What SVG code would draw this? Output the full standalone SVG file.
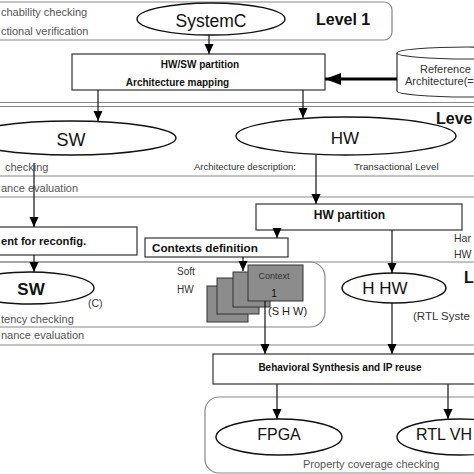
<svg xmlns="http://www.w3.org/2000/svg" width="474" height="474" viewBox="0 0 474 474">
<defs>
<marker id="ah" markerUnits="userSpaceOnUse" markerWidth="10" markerHeight="10" refX="10" refY="5" orient="auto"><path d="M0,0.5 L10,5 L0,9.5 z" fill="#000"/></marker>
<marker id="ahb" markerUnits="userSpaceOnUse" markerWidth="16" markerHeight="12" refX="16" refY="6" orient="auto"><path d="M0,0 L16,6 L0,12 z" fill="#000"/></marker>
<style>
.sep{stroke:#888;stroke-width:1.2;fill:none}
.box{fill:#fff;stroke:#333;stroke-width:1.2}
.ell{fill:#fff;stroke:#111;stroke-width:1.4}
.ctx{fill:#8c8c8c;stroke:#333;stroke-width:1}
.con{stroke:#111;stroke-width:1.2;fill:none;marker-end:url(#ah)}
text{font-family:"Liberation Sans",Arial,sans-serif}
.b{font-weight:bold;fill:#111}
.ann{fill:#555;font-size:11px}
.big{fill:#111}
</style>
</defs>
<rect width="474" height="474" fill="#fff"/>
<g id="separators">
<path class="sep" d="M-10,2 H384 A8,8 0 0 1 392,10 V32 A8,8 0 0 1 384,40 H-10"/>
<line class="sep" x1="0" y1="102.5" x2="474" y2="102.5"/>
<line class="sep" x1="0" y1="106.5" x2="474" y2="106.5"/>
<line class="sep" x1="0" y1="176" x2="474" y2="176"/>
<line class="sep" x1="0" y1="197" x2="474" y2="197"/>
<line class="sep" x1="0" y1="262" x2="474" y2="262"/>
<path class="sep" d="M-10,262 H310 A15,15 0 0 1 325,277 V312 A15,15 0 0 1 310,327 H-10"/>
<line class="sep" x1="0" y1="345" x2="474" y2="345"/>
<path class="sep" d="M490,397 H219 A14,14 0 0 0 205,411 V459 A14,14 0 0 0 219,473 H490"/>
</g>
<g id="annotations">
<text class="ann" x="1" y="16" font-size="9.8">chability checking</text>
<text class="ann" x="1" y="35" font-size="11.4">ctional verification</text>
<text class="b" x="316" y="25" font-size="16">Level 1</text>
<text class="b" x="436" y="124" font-size="16">Leve</text>
<text class="ann" x="5" y="171" font-size="11.8">checking</text>
<text class="ann" x="1" y="192" font-size="10.8">ance evaluation</text>
<text x="194" y="170" font-size="9.5" fill="#333">Architecture description:</text>
<text x="354" y="170" font-size="9.8" fill="#333">Transactional Level</text>
<text x="454" y="242" font-size="10.5" fill="#333">Har</text>
<text x="454" y="258" font-size="10.5" fill="#333">HW</text>
<text x="177" y="275" font-size="10" fill="#333">Soft</text>
<text x="177" y="293" font-size="10" fill="#333">HW</text>
<text x="88" y="307" font-size="10.5" fill="#333">(C)</text>
<text class="ann" x="1" y="323" font-size="10.8">tency checking</text>
<text class="ann" x="1" y="339" font-size="10.8">nance evaluation</text>
<text class="b" x="464" y="283" font-size="16">L</text>
<text x="413" y="320" font-size="11.5" fill="#333">(RTL Syste</text>
<text x="268" y="315" font-size="11" fill="#222">(S H W)</text>
<text class="ann" x="303" y="468" font-size="11.5">Property coverage checking</text>
</g>
<g id="systemc">
<ellipse class="ell" cx="211" cy="19" rx="74" ry="16"/>
<text class="big" x="211" y="27" font-size="17.5" text-anchor="middle">SystemC</text>
</g>
<g id="hwsw-partition">
<rect class="box" x="72" y="54" width="253" height="36"/>
<text class="b" x="200" y="68" font-size="10" text-anchor="middle">HW/SW partition</text>
<text class="b" x="177.5" y="86" font-size="10" text-anchor="middle">Architecture mapping</text>
</g>
<g id="reference-architecture">
<path d="M397,53 V91 A70,6 0 0 0 537,91 V53" fill="#fff" stroke="#333" stroke-width="1.2"/>
<ellipse cx="467" cy="53" rx="70" ry="6" fill="#fff" stroke="#333" stroke-width="1.2"/>
<text x="420" y="73" font-size="11" fill="#333">Reference</text>
<text x="405" y="85" font-size="11" fill="#333">Architecture(=</text>
</g>
<g id="sw">
<ellipse class="ell" cx="71" cy="138" rx="105" ry="17"/>
<text class="big" x="71" y="146" font-size="18" text-anchor="middle">SW</text>
</g>
<g id="hw">
<ellipse class="ell" cx="346" cy="136" rx="110" ry="19"/>
<text class="big" x="345" y="144" font-size="17" text-anchor="middle">HW</text>
</g>
<g id="hw-partition">
<rect class="box" x="256" y="204" width="206" height="26"/>
<text class="b" x="349.5" y="219" font-size="12" text-anchor="middle">HW partition</text>
</g>
<g id="reconfig">
<rect class="box" x="-10" y="227" width="147" height="28"/>
<text class="b" x="1" y="245" font-size="11.2">ent for reconfig.</text>
</g>
<g id="contexts-definition">
<rect class="box" x="145" y="238" width="143" height="19"/>
<text class="b" x="152" y="252" font-size="11.7">Contexts definition</text>
</g>
<g id="context-stack">
<rect class="ctx" x="207" y="286" width="41" height="36"/>
<rect class="ctx" x="217" y="278" width="42" height="36"/>
<rect class="ctx" x="233" y="272" width="37" height="35"/>
<rect class="ctx" x="248" y="265" width="55" height="36"/>
<text x="274" y="279" font-size="9" fill="#333" text-anchor="middle">Context</text>
<text x="274" y="297" font-size="10" fill="#111" text-anchor="middle">1</text>
</g>
<g id="sw-c">
<ellipse class="ell" cx="30" cy="288" rx="64" ry="16"/>
<text class="b" x="31" y="295" font-size="17" text-anchor="middle">SW</text>
</g>
<g id="h-hw">
<ellipse class="ell" cx="394" cy="288" rx="52" ry="15"/>
<text class="big" x="385" y="294" font-size="17" text-anchor="middle">H HW</text>
</g>
<g id="behavioral-synthesis">
<rect class="box" x="213" y="354" width="280" height="30"/>
<text class="b" x="340" y="371" font-size="10" text-anchor="middle">Behavioral Synthesis and IP reuse</text>
</g>
<g id="fpga">
<ellipse class="ell" cx="279" cy="437" rx="63" ry="18"/>
<text class="big" x="279" y="440" font-size="16" text-anchor="middle">FPGA</text>
</g>
<g id="rtl-vhdl">
<ellipse class="ell" cx="460" cy="437" rx="63" ry="18"/>
<text class="big" x="416" y="440" font-size="16">RTL VH</text>
</g>
<g id="connectors">
<line class="con" x1="209" y1="35" x2="209" y2="54"/>
<line x1="397" y1="79" x2="325" y2="79" stroke="#000" stroke-width="3" marker-end="url(#ahb)"/>
<line class="con" x1="98" y1="90" x2="98" y2="121"/>
<line class="con" x1="303" y1="90" x2="303" y2="118"/>
<line class="con" x1="34" y1="163" x2="34" y2="227"/>
<line class="con" x1="316" y1="155" x2="316" y2="204"/>
<line class="con" x1="34" y1="255" x2="34" y2="272"/>
<line class="con" x1="277" y1="230" x2="277" y2="238"/>
<line class="con" x1="243" y1="257" x2="243" y2="271"/>
<line class="con" x1="392" y1="230" x2="392" y2="273"/>
<line class="con" x1="265" y1="301" x2="265" y2="354"/>
<line class="con" x1="392" y1="303" x2="392" y2="354"/>
<line class="con" x1="277" y1="384" x2="277" y2="419"/>
<line class="con" x1="448" y1="384" x2="448" y2="419"/>
</g>
</svg>
